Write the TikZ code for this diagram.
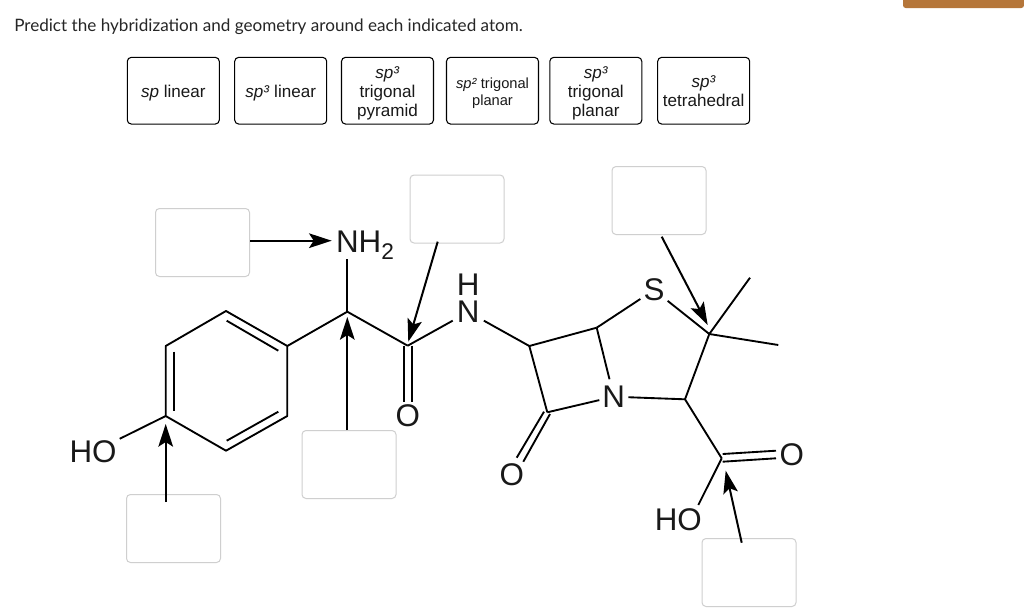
\documentclass[tikz,border=0pt]{standalone}
\usepackage{fontspec}
\setmainfont{Liberation Sans}
\newfontfamily\titlefont{Lato}
\usetikzlibrary{arrows.meta}
\definecolor{barc}{HTML}{B5763A}
\definecolor{blankc}{HTML}{CFCFCF}
\tikzset{
  x=0.75pt,y=-0.75pt,
  labelbox/.style={draw=black,line width=0.8pt,rounded corners=3pt,minimum width=69pt,minimum height=50pt,inner sep=0pt,align=center,font=\fontsize{12.8}{14.2}\selectfont,text=black!90},
  smalllabel/.style={labelbox,font=\fontsize{11}{13}\selectfont},
  blankbox/.style={draw=blankc,line width=0.75pt,rounded corners=3pt,minimum width=70.5pt,minimum height=51pt,inner sep=0pt},
  bond/.style={draw=black,line width=1.4pt},
  pointer/.style={draw=black,line width=1.5pt,-{Stealth[length=17pt,width=11pt,inset=3.5pt]}},
  atom/.style={inner sep=0pt,outer sep=2.4pt,font=\fontsize{23.5}{23.5}\selectfont,text=black!90},
}
\newcommand{\lift}[1]{\rule{0pt}{#1}}
\begin{document}
\begin{tikzpicture}
\useasboundingbox (0,0) rectangle (1024,614);
\fill[white] (0,0) rectangle (1024,614);
\fill[barc,rounded corners=2pt] (903,-6) rectangle (1024,8);
\node[anchor=west,inner sep=0pt,font=\titlefont\fontsize{12.83}{14}\selectfont,text=black!85] (title) at (14,26.5) {Predict the hybridization and geometry around each indicated atom.};

% answer labels
\node[labelbox] (l1) at (173.3,90.7) {\lift{12.5pt}\textit{sp} linear};
\node[labelbox] (l2) at (280.7,90.7) {\lift{12.5pt}\textit{sp³} linear};
\node[labelbox] (l3) at (387.5,90.7) {\lift{12.5pt}\textit{sp³}\\trigonal\\pyramid};
\node[smalllabel] (l4) at (492.5,90.7) {\lift{11.5pt}\textit{sp²} trigonal\\planar};
\node[labelbox] (l5) at (595.8,90.7) {\lift{12.5pt}\textit{sp³}\\trigonal\\planar};
\node[labelbox] (l6) at (703.7,90.7) {\textit{sp³}\\tetrahedral};

% blank boxes
\node[blankbox] (b1) at (202.5,242.5) {};
\node[blankbox] (b2) at (457,209) {};
\node[blankbox] (b3) at (659,200.5) {};
\node[blankbox] (b4) at (349,464.5) {};
\node[blankbox] (b5) at (173.5,528.5) {};
\node[blankbox] (b6) at (749,572.5) {};

% carbon skeleton
\coordinate (r1) at (226,311);
\coordinate (r2) at (287.3,346);
\coordinate (r3) at (287.3,416);
\coordinate (r4) at (226,450.7);
\coordinate (r5) at (165.7,416);
\coordinate (r6) at (165.7,346);
\coordinate (ca) at (347.3,311.7);
\coordinate (co) at (407.7,345.7);
\coordinate (q1) at (529.3,346);
\coordinate (q2) at (596.7,327.7);
\coordinate (q3) at (547.3,412.3);
\coordinate (t1) at (709.3,334);
\coordinate (t2) at (685,399.3);
\coordinate (cx) at (721.7,458.3);
\coordinate (me1) at (750,277.7);
\coordinate (me2) at (778.3,345);
\coordinate (nh2b) at (347.3,259);

% atom labels
\node[atom,anchor=base west] (nh2) at (332.8,252.5) {NH\raisebox{-5.5pt}{\fontsize{17}{17}\selectfont 2}};
\node[atom] (ho1) at (93,452) {HO};
\node[atom] (o1) at (407.7,416) {O};
\node[atom] (h) at (468.3,284.3) {H};
\node[atom,outer sep=3.2pt] (n1) at (468.3,312) {N};
\node[atom] (o2) at (511.7,475) {O};
\node[atom,outer xsep=2.4pt,outer ysep=5pt] (n2) at (613.8,396.7) {N};
\node[atom] (s) at (654,290) {S};
\node[atom] (o3) at (791.7,454.3) {O};
\node[atom,outer ysep=4.5pt] (ho2) at (678.3,520) {HO};

% ring
\draw[bond,line join=round] (r1) -- (r2) -- (r3) -- (r4) -- (r5) -- (r6) -- cycle;
\draw[bond] (226.7,320.7) -- (278.3,350.7);
\draw[bond] (174,351.7) -- (174,410.7);
\draw[bond] (226.7,440.7) -- (278.3,411.7);
% chain
\draw[bond,line join=round] (r2) -- (ca) -- (co);
\draw[bond] (ca) -- (nh2b);
\draw[bond] (co) -- (n1);
\draw[bond] ([xshift=-3pt]co) -- ([xshift=-3pt]co |- o1.north);
\draw[bond] ([xshift=3pt]co) -- ([xshift=3pt]co |- o1.north);
\draw[bond] (ho1) -- (r5);
\draw[bond] (n1) -- (q1);
% lactam
\draw[bond,line join=round] (q3) -- (q1) -- (q2);
\draw[bond] (q2) -- (n2);
\draw[bond] (q3) -- (n2);
\draw[bond] (550,414) -- (523.3,461.7);
\draw[bond] (544,411.7) -- (516.7,457.7);
% thiazolidine
\draw[bond] (q2) -- (s);
\draw[bond] (s) -- (t1);
\draw[bond,line join=round] (t1) -- (t2);
\draw[bond] (t2) -- (n2);
\draw[bond] (t1) -- (me1);
\draw[bond] (t1) -- (me2);
\draw[bond] (t2) -- (cx);
\draw[bond] (722.7,454) -- (776,450.7);
\draw[bond] (722.7,461.7) -- (776,458.3);
\draw[bond] (cx) -- (698.3,505);

% pointers
\coordinate (tipA) at (331.7,240.7);
\coordinate (tipB) at (408.3,341.7);
\coordinate (tipC) at (707.7,325);
\coordinate (tipD) at (347.3,317);
\coordinate (tipE) at (165.7,424);
\coordinate (tipF) at (725.7,470.7);
\coordinate (startB) at (437.7,241.7);
\coordinate (startC) at (661.7,236.7);
\coordinate (startE) at (165.7,502);
\coordinate (startF) at (741.7,542.7);
\draw[pointer] (b1.east |- tipA) -- (tipA);
\draw[pointer] (startB) -- (tipB);
\draw[pointer] (startC) -- (tipC);
\draw[pointer] (b4.north -| tipD) -- (tipD);
\draw[pointer] (startE) -- (tipE);
\draw[pointer] (startF) -- (tipF);
\end{tikzpicture}
\end{document}
